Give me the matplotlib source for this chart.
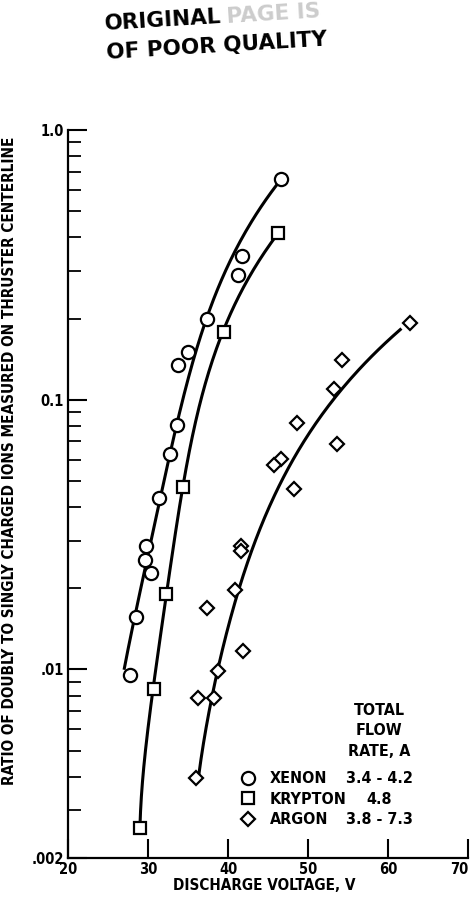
import numpy as np
import matplotlib.pyplot as plt
from matplotlib.ticker import FixedLocator, NullFormatter, LogLocator
from matplotlib.lines import Line2D

# measured points: discharge voltage (V) and ratio of doubly to singly charged ions
xenon_v = [46.6, 41.8, 41.25, 37.4, 34.95, 33.75, 33.66, 32.8, 31.4, 29.75, 29.6, 30.4, 28.45, 27.8]
xenon_r = [0.656, 0.34, 0.29, 0.20, 0.150, 0.135, 0.0806, 0.063, 0.0433, 0.0287, 0.0254, 0.0228, 0.0157, 0.0095]

krypton_v = [46.3, 39.5, 34.4, 32.2, 30.7, 29.04]
krypton_r = [0.414, 0.179, 0.0475, 0.019, 0.00848, 0.00258]

argon_v = [62.8, 54.3, 53.2, 48.6, 53.6, 46.6, 45.75, 48.2, 41.6, 41.6, 40.9, 37.4, 41.9, 38.8, 36.2, 38.2, 36.0]
argon_r = [0.193, 0.140, 0.110, 0.082, 0.0687, 0.0603, 0.0571, 0.0467, 0.0288, 0.0274,
           0.0197, 0.0169, 0.0117, 0.0099, 0.00783, 0.00783, 0.00395]

# faired curves
xenon_fit_v = [27.0, 28.45, 29.9, 31.4, 32.8, 33.66, 35.5, 37.4, 40.9, 46.1]
xenon_fit_r = [0.0101, 0.0157, 0.026, 0.0433, 0.063, 0.0806, 0.137, 0.20, 0.36, 0.625]

krypton_fit_v = [29.0, 30.7, 32.2, 34.4, 36.1, 39.5, 42.0, 45.7]
krypton_fit_r = [0.0027, 0.0085, 0.019, 0.0475, 0.087, 0.179, 0.27, 0.39]

argon_fit_v = [36.3, 38.1, 38.8, 39.9, 40.9, 43.3, 45.7, 47.8, 50.3, 53.0, 56.5, 61.7]
argon_fit_r = [0.00408, 0.0078, 0.0099, 0.0141, 0.0198, 0.0286, 0.0426, 0.0566, 0.0753, 0.100, 0.133, 0.182]

gases = ['XENON', 'KRYPTON', 'ARGON']
flow_rates = ['3.4 - 4.2', '4.8', '3.8 - 7.3']

txt = dict(family='DejaVu Sans', stretch='condensed', weight='bold')

fig = plt.figure(figsize=(4.74, 8.97), dpi=100)
ax = fig.add_axes([0.1435, 0.0435, 0.8438, 0.8116])

def smooth(v, r, deg=4):
    # smooth line through the read curve: voltage as polynomial of log ratio
    y = np.log10(r)
    p = np.polyfit(y, v, deg)
    yy = np.linspace(y.min(), y.max(), 200)
    return np.polyval(p, yy), 10 ** yy

mk = dict(ls='none', mfc='white', mec='black', mew=1.6, zorder=3)
series = [(xenon_v, xenon_r, xenon_fit_v, xenon_fit_r, 'o', 9.5),
          (krypton_v, krypton_r, krypton_fit_v, krypton_fit_r, 's', 9),
          (argon_v, argon_r, argon_fit_v, argon_fit_r, 'D', 7.5)]
for v, r, fv, fr, m, ms in series:
    cv, cr = smooth(np.array(fv), np.array(fr))
    ax.plot(cv, cr, color='black', lw=2.2, zorder=2)
    ax.plot(v, r, marker=m, ms=ms, **mk)

ax.set_yscale('log')
ax.set_xlim(20, 70)
ax.set_ylim(0.002, 1.0)

ax.spines['top'].set_visible(False)
ax.spines['right'].set_visible(False)
for s in ['left', 'bottom']:
    ax.spines[s].set_linewidth(1.6)

ax.set_xticks([20, 30, 40, 50, 60, 70])
ax.set_xticklabels(['20', '30', '40', '50', '60', '70'])
ax.yaxis.set_major_locator(FixedLocator([0.002, 0.01, 0.1, 1.0]))
ax.set_yticklabels(['.002', '.01', '0.1', '1.0'])
ax.yaxis.set_minor_locator(LogLocator(base=10, subs=np.arange(2, 10)))
ax.yaxis.set_minor_formatter(NullFormatter())
ax.tick_params(axis='both', which='major', direction='in', length=14, width=1.5, pad=3)
ax.tick_params(axis='y', which='minor', direction='in', length=9, width=1.3)
for lab in ax.get_xticklabels() + ax.get_yticklabels():
    lab.set_fontproperties(dict(size=10.5, **txt))
ax.get_yticklabels()[0].set_verticalalignment('center_baseline')
ax.get_xticklabels()[-1].set_horizontalalignment('right')

ax.set_xlabel('DISCHARGE VOLTAGE, V', fontsize=11, **txt)
ax.xaxis.set_label_coords(0.49, -0.027)
ax.set_ylabel('RATIO OF DOUBLY TO SINGLY CHARGED IONS MEASURED ON THRUSTER CENTERLINE',
              fontsize=11, **txt)
ax.yaxis.set_label_coords(-0.128, 0.545)

# legend: markers and gas names, then flow-rate column with title
leg_font = dict(size=11.5, **txt)
handles = [Line2D([], [], marker=m, ms=ms, **mk) for m, ms in [('o', 9.5), ('s', 9), ('D', 7.5)]]
leg1 = ax.legend(handles, gases, loc='lower left', bbox_to_anchor=(0.41, 0.031), frameon=False,
                 prop=leg_font, handlelength=1.0, handletextpad=0.85,
                 labelspacing=0.35, borderpad=0)
ax.add_artist(leg1)
blank = [Line2D([], [], ls='none') for _ in flow_rates]
leg2 = ax.legend(blank, flow_rates, loc='lower center', bbox_to_anchor=(0.778, 0.031), frameon=False,
                 prop=leg_font, handlelength=0, handletextpad=0,
                 labelspacing=0.35, borderpad=0, alignment='center',
                 title='TOTAL\nFLOW\nRATE, A', title_fontproperties=leg_font)
leg2.get_title().set_linespacing(1.45)
leg2.get_title().set_multialignment('center')
leg2._legend_box.sep = 9
for col in leg2._legend_handle_box.get_children():
    col.align = 'center'

# stamp at the top of the page
stamp = dict(fontsize=15.5, fontweight='heavy', rotation=3.5, rotation_mode='anchor',
             ha='left', va='baseline')
fig.text(0.222, 0.966, 'ORIGINAL', **stamp)
fig.text(0.478, 0.974, 'PAGE IS', color='#cccccc', **stamp)
fig.text(0.226, 0.934, 'OF POOR QUALITY', **stamp)

fig.savefig('out.png', dpi=100)
